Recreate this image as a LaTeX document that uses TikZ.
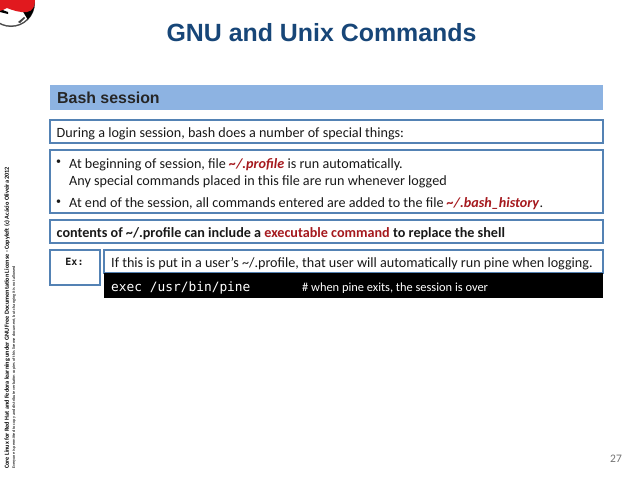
\documentclass[tikz,border=0pt]{standalone}
\usepackage{fontspec}
\setmainfont{Carlito}
\newfontfamily\headfont{Liberation Sans}
\newfontfamily\codefont{DejaVu Sans Mono}
\definecolor{hdblue}{RGB}{141,179,226}
\definecolor{edgeblue}{RGB}{84,130,180}
\definecolor{titleblue}{RGB}{23,70,120}
\definecolor{darkred}{RGB}{165,25,30}
\definecolor{bodytext}{RGB}{25,25,25}
\definecolor{hatred}{RGB}{225,25,30}
\tikzset{
  panel/.style={draw=edgeblue,line width=1.2pt,fill=white},
  bodylabel/.style={anchor=west,inner sep=0pt,text=bodytext,font=\fontsize{14.15}{17}\selectfont},
  bulletmark/.style={anchor=center,inner sep=0pt,text=bodytext,font=\fontsize{10}{12}\selectfont},
  sidelabel/.style={anchor=west,inner sep=0pt,rotate=90,text=black},
}
\newcommand{\redit}[1]{\textcolor{darkred}{\textbf{\textit{#1}}}}
\begin{document}
\begin{tikzpicture}[x=1pt,y=-1pt]
\useasboundingbox (0,0) rectangle (638,479);
\fill[white] (0,0) rectangle (638,479);
% logo
\begin{scope}
\clip (0,0) rectangle (40,32);
\fill[black!70] (11,3) circle (24);
\fill[white] (11,3) circle (22.5);
\begin{scope}
\clip (11,3) circle (23.5);
\fill[black] (22,10) -- (36,4) -- (36,20) -- (28,20) -- (25,15) -- cycle;
\fill[black!75] (18,22) -- (24,17) -- (25,18) -- (20,23) -- cycle;
\fill[black] (0,9) -- (8,12) -- (8,14) -- (0,12) -- cycle;
\end{scope}
\fill[hatred] (0,0) -- (35,0) .. controls (35,6) and (33,11) .. (27,12) .. controls (20,13) and (12,10) .. (7,8) .. controls (4,9) and (2,11) .. (0,11) -- cycle;
\end{scope}
% title
\node[font=\headfont\bfseries\fontsize{24.9}{29}\selectfont,text=titleblue,inner sep=0pt] (title) at (321.5,33) {GNU and Unix Commands};
% sidebar
\node[sidelabel,font=\bfseries\fontsize{6.2}{8}\selectfont] (side1) at (7,469) {Core Linux for Red Hat and Fedora learning under GNU Free Documentation License - Copyleft (c) Acácio Oliveira 2012};
\node[sidelabel,font=\fontsize{4.3}{5}\selectfont] (side2) at (14,469) {Everyone is permitted to copy and distribute verbatim copies of this license document, but changing it is not allowed};
% header
\fill[hdblue] (50,85) rectangle (603,110);
\node[anchor=west,inner sep=0pt,font=\headfont\bfseries\fontsize{15.9}{19}\selectfont,text=black!85] (hd) at (57,98) {Bash session};
% panels
\draw[panel] (50,120) rectangle (603,143);
\node[bodylabel] (intro) at (56.5,133.5) {During a login session, bash does a number of special things:};
\draw[panel] (50,150) rectangle (603,213);
\node[bulletmark] (b1) at (58.5,162.5) {•};
\node[bodylabel] (l1) at (69,164.5) {At beginning of session, file \redit{\textasciitilde/.profile} is run automatically.};
\node[bodylabel] (l2) at (69,181.5) {Any special commands placed in this file are run whenever logged};
\node[bulletmark] (b2) at (58.5,202) {•};
\node[bodylabel] (l3) at (69,204) {At end of the session, all commands entered are added to the file \redit{\textasciitilde/.bash\_history}.};
\draw[panel] (50,220) rectangle (603,243);
\node[bodylabel,font=\bfseries\fontsize{14.15}{17}\selectfont] (cont) at (56.5,234) {contents of \textasciitilde/.profile can include a \textcolor{darkred}{executable command} to replace the shell};
\draw[panel] (50,250) rectangle (100,285);
\node[inner sep=0pt,font=\codefont\bfseries\fontsize{10}{12}\selectfont,text=bodytext] (ex) at (74.5,261.5) {Ex:};
\draw[panel] (104,250) rectangle (603,273);
\node[bodylabel] (ifthis) at (111,263.5) {If this is put in a user’s \textasciitilde/.profile, that user will automatically run pine when logging.};
\fill[black] (104,273) rectangle (603,298);
\node[anchor=west,inner sep=0pt,font=\codefont\fontsize{12.85}{15}\selectfont,text=white] (cmd) at (111,288) {exec /usr/bin/pine};
\node[anchor=west,inner sep=0pt,font=\fontsize{12.4}{15}\selectfont,text=white] (cmt) at (302,288) {\# when pine exits, the session is over};
% page number
\node[inner sep=0pt,font=\fontsize{11.5}{13}\selectfont,text=black!55] (pg) at (616,458.5) {27};
\end{tikzpicture}
\end{document}
